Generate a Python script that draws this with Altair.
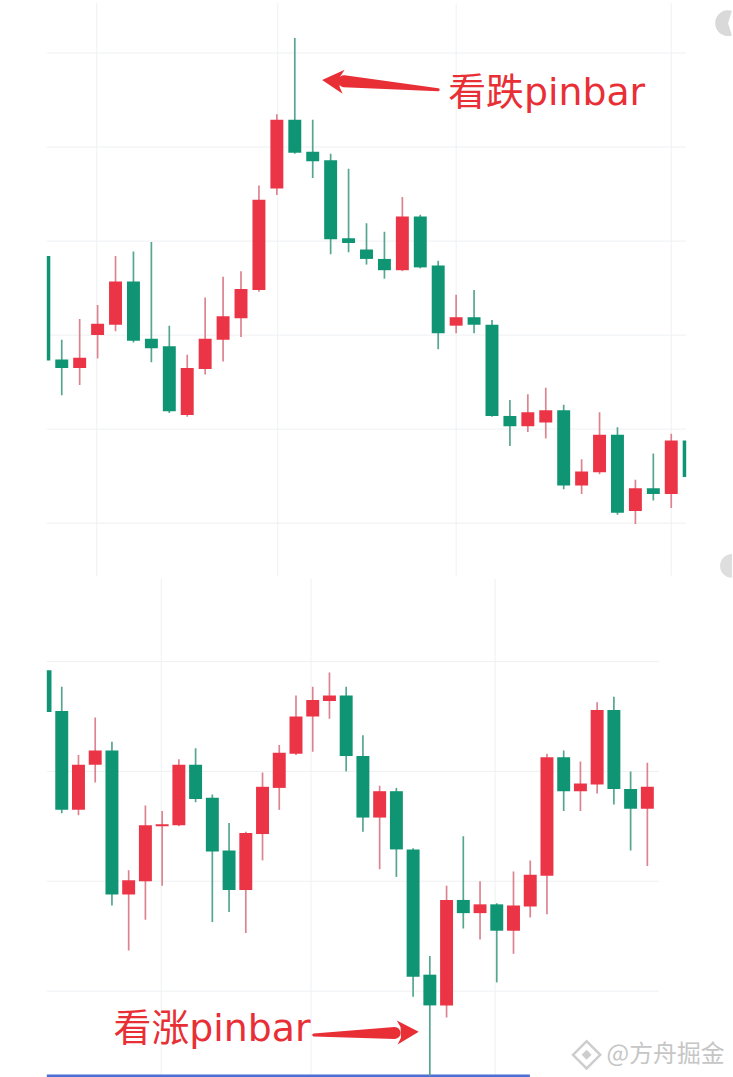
import math
import altair as alt
import pandas as pd

# ---------------- upper panel: rally, bearish pin bar, sell-off ----------------
top_open = [128.4, 117.4, 116.5, 120.0, 121.1, 125.7, 119.6, 118.8, 111.5, 116.4,
            119.5, 121.8, 124.8, 135.6, 142.9, 139.5, 138.6, 130.3, 129.1, 128.1,
            126.9, 132.6, 127.4, 121.0, 121.9, 121.1, 111.4, 110.3, 110.7, 112.0,
            104.0, 105.4, 109.4, 101.3, 103.7, 103.1, 108.8]
top_high = [128.4, 119.5, 121.7, 123.2, 128.4, 128.9, 129.9, 121.0, 117.9, 124.0,
            126.2, 126.8, 135.9, 143.5, 151.6, 142.9, 139.3, 137.7, 131.9, 131.0,
            134.7, 132.8, 127.9, 124.3, 124.8, 121.6, 113.1, 113.7, 114.4, 112.6,
            106.8, 111.8, 110.2, 104.6, 107.4, 109.5, 108.8]
top_low = [117.3, 113.6, 114.7, 117.5, 120.4, 119.2, 117.1, 111.7, 111.3, 115.8,
           117.2, 119.8, 124.6, 134.9, 139.3, 136.7, 128.6, 128.8, 127.5, 126.0,
           126.8, 127.1, 118.5, 120.2, 120.2, 111.3, 108.2, 109.7, 109.0, 103.6,
           103.1, 105.2, 100.9, 99.9, 102.4, 101.6, 104.9]
top_close = [117.3, 116.5, 117.6, 121.2, 125.7, 119.4, 118.6, 111.9, 116.5, 119.6,
             122.0, 124.9, 134.4, 142.9, 139.4, 138.5, 130.2, 129.8, 128.1, 126.9,
             132.6, 127.2, 120.2, 121.9, 121.1, 111.4, 110.3, 111.8, 112.0, 104.0,
             105.5, 109.4, 101.1, 103.7, 103.1, 108.8, 104.9]
top_grid_prices = [100, 110, 120, 130, 140, 150]
top_grid_bars = [3.95, 14.05, 24, 36]

# ---------------- lower panel: decline, bullish pin bar on support, rebound ----------------
bot_open = [79.2, 75.5, 66.5, 70.6, 71.9, 58.8, 60.0, 65.0, 65.1, 70.6,
            67.6, 62.8, 59.2, 64.3, 68.5, 71.6, 75.0, 76.4, 76.9, 71.4,
            65.8, 68.2, 62.9, 51.5, 48.7, 58.3, 57.1, 57.9, 55.5, 57.7,
            60.5, 71.3, 68.2, 68.8, 75.6, 68.4, 66.6]
bot_high = [79.2, 77.7, 71.5, 74.9, 72.7, 61.0, 66.9, 66.4, 71.1, 72.1,
            67.9, 65.3, 64.5, 69.9, 72.4, 76.9, 77.7, 79.0, 77.7, 73.3,
            68.7, 68.5, 63.0, 53.2, 59.6, 64.1, 60.0, 58.0, 60.9, 61.9,
            71.6, 71.9, 70.9, 76.3, 76.8, 70.0, 70.8]
bot_low = [75.4, 66.2, 66.0, 69.0, 57.8, 53.7, 56.5, 59.6, 65.0, 67.2,
           56.3, 57.2, 55.3, 61.9, 66.5, 71.5, 71.8, 74.8, 70.0, 64.5,
           61.1, 60.4, 49.5, 42.3, 47.6, 55.7, 54.7, 50.8, 53.4, 56.7,
           57.0, 66.4, 66.4, 68.0, 67.0, 62.8, 61.4]
bot_close = [75.4, 66.5, 70.6, 71.9, 58.8, 60.1, 65.1, 65.2, 70.6, 67.5,
             62.7, 59.2, 64.4, 68.6, 71.7, 75.0, 76.5, 76.9, 71.4, 65.8,
             68.2, 62.9, 51.3, 48.7, 58.3, 57.1, 57.9, 55.5, 57.8, 60.6,
             71.3, 68.2, 68.9, 75.6, 68.4, 66.6, 68.6]
bot_grid_prices = [50, 60, 70, 80]
bot_grid_bars = [7.95, 16.9, 27.9]
support_level = 42.3

# annotation anchors (bar index, price)
top_label = ["看跌pinbar"]
top_label_at = [23.56, 145.66]
top_arrow_i, top_arrow_p, top_arrow_w = [23.0, 17.75], [146.1, 147.0], [3, 12]
top_head_at = [17.19, 147.03]

bot_label = ["看涨pinbar"]
bot_label_at = [5.10, 46.46]
bot_arrow_i, bot_arrow_p, bot_arrow_w = [17.06, 21.9], [46.01, 46.19], [3, 12]
bot_head_at = [22.62, 46.26]

watermark = ["@方舟掘金"]
watermark_at = [34.56, 44.2]
logo_at = [33.37, 44.2]

RED, GREEN = "#ec3447", "#0f9573"
RED_WICK, GREEN_WICK = "#dc8390", "#55a691"
LABEL_RED = "#e82f36"
GRID = "#eef0f2"
LABEL_FONT = "DejaVu Sans, Noto Sans CJK SC"
MARK_FONT = "Noto Sans CJK SC"
HEAD_LEFT = "M -1 0 L 0.8 -1 L 0.5 -0.45 L 0.5 0.45 L 0.8 1 Z"
HEAD_RIGHT = "M 1 0 L -0.8 -1 L -0.5 -0.45 L -0.5 0.45 L -0.8 1 Z"

TOP_W, TOP_H = 642, 575
BOT_W, BOT_H = 688, 502
xs_top = alt.Scale(domain=[1.1667, 36.8333], nice=False, zero=False, padding=0)
ys_top = alt.Scale(domain=[94.39, 155.30], nice=False, zero=False, padding=0)
xs_bot = alt.Scale(domain=[1.1071, 42.0595], nice=False, zero=False, padding=0)
ys_bot = alt.Scale(domain=[42.02, 87.53], nice=False, zero=False, padding=0)


def ohlc(o, h, l, c):
    return pd.DataFrame({"idx": list(range(1, len(o) + 1)),
                         "open": o, "high": h, "low": l, "close": c})


def X(field, xs):
    return alt.X(field, scale=xs, axis=None)


def Y(field, ys):
    return alt.Y(field, scale=ys, axis=None)


def candles(df, xs, ys):
    up = "datum.close >= datum.open"
    wick = alt.Chart(df).mark_rule(strokeWidth=1.7, clip=True).encode(
        x=X("idx:Q", xs), y=Y("low:Q", ys), y2="high:Q",
        color=alt.condition(up, alt.value(RED_WICK), alt.value(GREEN_WICK)))
    body = alt.Chart(df).mark_bar(size=13, clip=True).encode(
        x=X("idx:Q", xs), y=Y("open:Q", ys), y2="close:Q",
        color=alt.condition(up, alt.value(RED), alt.value(GREEN)))
    return [wick, body]


def arrow(ii, pp, ww, head_at, shape, angle, xs, ys):
    shaft = alt.Chart(pd.DataFrame({"i": ii, "p": pp, "w": ww})).mark_trail(
        color=LABEL_RED).encode(
        x=X("i:Q", xs), y=Y("p:Q", ys),
        size=alt.Size("w:Q", scale=None, legend=None))
    head = alt.Chart(pd.DataFrame({"i": [head_at[0]], "p": [head_at[1]]})).mark_point(
        shape=shape, size=580, filled=True, color=LABEL_RED, opacity=1,
        angle=angle, strokeWidth=0).encode(x=X("i:Q", xs), y=Y("p:Q", ys))
    return [shaft, head]


def label(txt, at, xs, ys, size, color, font):
    return alt.Chart(pd.DataFrame({"t": txt, "i": [at[0]], "p": [at[1]]})).mark_text(
        align="left", baseline="middle", font=font, fontSize=size, color=color).encode(
        x=X("i:Q", xs), y=Y("p:Q", ys), text="t:N")


# ---- upper panel ----
top_df = ohlc(top_open, top_high, top_low, top_close)
top_hgrid = alt.Chart(pd.DataFrame({"p": top_grid_prices})).mark_rule(
    color=GRID, strokeWidth=1).encode(y=Y("p:Q", ys_top))
top_vgrid = alt.Chart(pd.DataFrame({"i": top_grid_bars})).mark_rule(
    color=GRID, strokeWidth=1).encode(x=X("i:Q", xs_top))
badge_a = alt.Chart(pd.DataFrame({"i": [39.17], "p": [153.18]})).mark_arc(
    radius=13, theta=math.pi - 0.3, theta2=2 * math.pi + 0.3, color="#d9d9d9").encode(
    x=X("i:Q", xs_top), y=Y("p:Q", ys_top))
badge_b = alt.Chart(pd.DataFrame({"i": [39.39], "p": [95.45]})).mark_arc(
    radius=12, theta=math.pi, theta2=2 * math.pi, color="#dedede").encode(
    x=X("i:Q", xs_top), y=Y("p:Q", ys_top))

top = alt.layer(
    top_hgrid, top_vgrid, *candles(top_df, xs_top, ys_top),
    *arrow(top_arrow_i, top_arrow_p, top_arrow_w, top_head_at, HEAD_LEFT, 5, xs_top, ys_top),
    label(top_label, top_label_at, xs_top, ys_top, 38, LABEL_RED, LABEL_FONT),
    badge_a, badge_b,
).properties(width=TOP_W, height=TOP_H)

# ---- lower panel ----
bot_df = ohlc(bot_open, bot_high, bot_low, bot_close)
bot_hgrid = alt.Chart(pd.DataFrame({"p": bot_grid_prices, "a": 1.1071, "b": 37.7})).mark_rule(
    color=GRID, strokeWidth=1).encode(x=X("a:Q", xs_bot), x2="b:Q", y=Y("p:Q", ys_bot))
bot_vgrid = alt.Chart(pd.DataFrame({"i": bot_grid_bars})).mark_rule(
    color=GRID, strokeWidth=1).encode(x=X("i:Q", xs_bot))
support = alt.Chart(pd.DataFrame({"p": [support_level], "a": [1.1071], "b": [29.98]})).mark_rule(
    color="#4b6fd2", strokeWidth=2.6).encode(x=X("a:Q", xs_bot), x2="b:Q", y=Y("p:Q", ys_bot))
logo_outer = alt.Chart(pd.DataFrame({"i": [logo_at[0]], "p": [logo_at[1]]})).mark_point(
    shape="diamond", size=750, filled=False, color="#cdcdcd", strokeWidth=2.5, opacity=1).encode(
    x=X("i:Q", xs_bot), y=Y("p:Q", ys_bot))
logo_inner = alt.Chart(pd.DataFrame({"i": [logo_at[0]], "p": [logo_at[1]]})).mark_point(
    shape="diamond", size=100, filled=True, color="#cdcdcd", opacity=1).encode(
    x=X("i:Q", xs_bot), y=Y("p:Q", ys_bot))

bottom = alt.layer(
    bot_hgrid, bot_vgrid, support, *candles(bot_df, xs_bot, ys_bot),
    *arrow(bot_arrow_i, bot_arrow_p, bot_arrow_w, bot_head_at, HEAD_RIGHT, 358, xs_bot, ys_bot),
    label(bot_label, bot_label_at, xs_bot, ys_bot, 38, LABEL_RED, LABEL_FONT),
    logo_outer, logo_inner,
    label(watermark, watermark_at, xs_bot, ys_bot, 24, "#c6c6c6", MARK_FONT),
).properties(width=BOT_W, height=BOT_H)

chart = alt.vconcat(top, bottom, spacing=0).properties(
    padding={"left": 45, "right": 0, "top": 0, "bottom": 0},
).configure(background="white").configure_view(stroke=None)

chart.save("out.html", embed_options={"renderer": "svg", "actions": False})
